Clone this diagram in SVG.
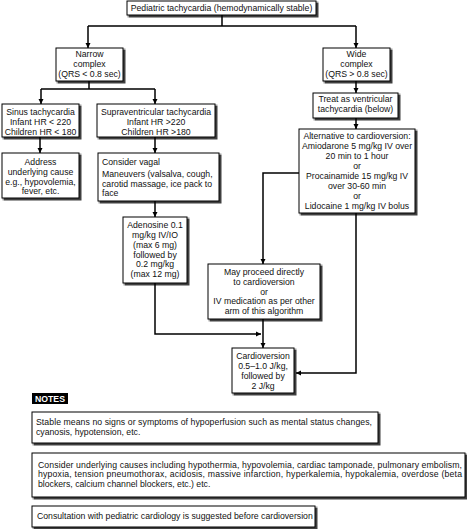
<svg xmlns="http://www.w3.org/2000/svg" width="467" height="529" viewBox="0 0 467 529">
<defs>
<marker id="ah" markerWidth="6" markerHeight="6" refX="5" refY="3" orient="auto" markerUnits="userSpaceOnUse">
<path d="M0,0.5 L5,3 L0,5.5 Z" fill="#000"/>
</marker>
<filter id="sh" x="-5%" y="-5%" width="115%" height="120%">
<feOffset in="SourceAlpha" dx="1.5" dy="1.5" result="o"/>
<feComponentTransfer in="o" result="o2"><feFuncA type="linear" slope="0.75"/></feComponentTransfer>
<feMerge><feMergeNode in="o2"/><feMergeNode in="SourceGraphic"/></feMerge>
</filter>
</defs>
<style>
.b{fill:#fff;stroke:#000;stroke-width:1;filter:url(#sh)}
text{font-family:"Liberation Sans",Arial,sans-serif;font-size:8.7px;fill:#111}
.c{text-anchor:middle}
.e{fill:none;stroke:#000;stroke-width:1.5}
.a{marker-end:url(#ah)}
</style>
<rect width="467" height="529" fill="#fff"/>
<g id="connectors">
<path class="e" d="M222,15 V26 M88,26 H356"/>
<path class="e a" d="M88,26 V48"/>
<path class="e a" d="M356,26 V48"/>
<path class="e" d="M89,81 V89 M41,89 H155"/>
<path class="e a" d="M41,89 V104"/>
<path class="e a" d="M155,89 V104"/>
<path class="e a" d="M40,137 V153"/>
<path class="e a" d="M155,137 V153"/>
<path class="e a" d="M155,201 V217"/>
<path class="e a" d="M356,81 V93"/>
<path class="e a" d="M356,118 V129"/>
<path class="e a" d="M299,173 H263 V264"/>
<path class="e a" d="M155,283 V334 H261"/>
<path class="e a" d="M263,319 V348"/>
<path class="e a" d="M356,213 V373 H296"/>
</g>
<g id="top"><rect class="b" x="127" y="1" width="189" height="14"/><text class="c" x="221.5" y="11">Pediatric tachycardia (hemodynamically stable)</text></g>
<g id="narrow"><rect class="b" x="56" y="48" width="67" height="33"/><text class="c" x="89.5" y="57">Narrow</text><text class="c" x="89.5" y="67">complex</text><text class="c" x="89.5" y="77">(QRS &lt; 0.8 sec)</text></g>
<g id="wide"><rect class="b" x="323" y="48" width="67" height="33"/><text class="c" x="356.5" y="57">Wide</text><text class="c" x="356.5" y="67">complex</text><text class="c" x="356.5" y="77">(QRS &gt; 0.8 sec)</text></g>
<g id="sinus"><rect class="b" x="2" y="104" width="77" height="33"/><text class="c" x="40.5" y="115">Sinus tachycardia</text><text class="c" x="40.5" y="125">Infant HR &lt; 220</text><text class="c" x="40.5" y="135">Children HR &lt; 180</text></g>
<g id="svt"><rect class="b" x="97" y="104" width="118" height="33"/><text class="c" x="156" y="115">Supraventricular tachycardia</text><text class="c" x="156" y="125">Infant HR &gt;220</text><text class="c" x="156" y="135">Children HR &gt;180</text></g>
<g id="address"><rect class="b" x="2" y="153" width="77" height="45"/><text class="c" x="40.5" y="165">Address</text><text class="c" x="40.5" y="175">underlying cause</text><text class="c" x="40.5" y="185">e.g., hypovolemia,</text><text class="c" x="40.5" y="194">fever, etc.</text></g>
<g id="vagal"><rect class="b" x="98" y="153" width="121" height="48"/><text x="102" y="165">Consider vagal</text><text x="102" y="177">Maneuvers (valsalva, cough,</text><text x="102" y="187">carotid massage, ice pack to</text><text x="102" y="196">face</text></g>
<g id="adenosine"><rect class="b" x="123" y="217" width="64" height="66"/><text class="c" x="155" y="228">Adenosine 0.1</text><text class="c" x="155" y="238">mg/kg IV/IO</text><text class="c" x="155" y="248">(max 6 mg)</text><text class="c" x="155" y="258">followed by</text><text class="c" x="155" y="267">0.2 mg/kg</text><text class="c" x="155" y="277">(max 12 mg)</text></g>
<g id="treat"><rect class="b" x="313" y="93" width="85" height="25"/><text class="c" x="355.5" y="102">Treat as ventricular</text><text class="c" x="355.5" y="112">tachycardia (below)</text></g>
<g id="alternative"><rect class="b" x="299" y="129" width="116" height="84"/><text class="c" x="357" y="139">Alternative to cardioversion:</text><text class="c" x="357" y="149">Amiodarone 5 mg/kg IV over</text><text class="c" x="357" y="159">20 min to 1 hour</text><text class="c" x="357" y="169">or</text><text class="c" x="357" y="179">Procainamide 15 mg/kg IV</text><text class="c" x="357" y="189">over 30-60 min</text><text class="c" x="357" y="199">or</text><text class="c" x="357" y="209">Lidocaine 1 mg/kg IV bolus</text></g>
<g id="proceed"><rect class="b" x="208" y="264" width="112" height="55"/><text class="c" x="264" y="275">May proceed directly</text><text class="c" x="264" y="285">to cardioversion</text><text class="c" x="264" y="295">or</text><text class="c" x="264" y="304">IV medication as per other</text><text class="c" x="264" y="314">arm of this algorithm</text></g>
<g id="cardioversion"><rect class="b" x="232" y="348" width="62" height="45"/><text class="c" x="263" y="359">Cardioversion</text><text class="c" x="263" y="369">0.5–1.0 J/kg,</text><text class="c" x="263" y="379">followed by</text><text class="c" x="263" y="389">2 J/kg</text></g>
<g id="notes-label"><rect x="32" y="393" width="36" height="11" fill="#000"/><text class="c" x="50" y="402" style="fill:#fff;font-weight:bold">NOTES</text></g>
<g id="note1"><rect class="b" x="32" y="412" width="346" height="31"/><text x="36" y="425" textLength="336" lengthAdjust="spacing">Stable means no signs or symptoms of hypoperfusion such as mental status changes,</text><text x="36" y="435">cyanosis, hypotension, etc.</text></g>
<g id="note2"><rect class="b" x="32" y="453" width="433" height="44"/><text x="38" y="468" textLength="424" lengthAdjust="spacing">Consider underlying causes including hypothermia, hypovolemia, cardiac tamponade, pulmonary embolism,</text><text x="38" y="477" textLength="424" lengthAdjust="spacing">hypoxia, tension pneumothorax, acidosis, massive infarction, hyperkalemia, hypokalemia, overdose (beta</text><text x="38" y="487">blockers, calcium channel blockers, etc.) etc.</text></g>
<g id="note3"><rect class="b" x="32" y="506" width="283" height="21"/><text x="37" y="519">Consultation with pediatric cardiology is suggested before cardioversion</text></g>
</svg>
